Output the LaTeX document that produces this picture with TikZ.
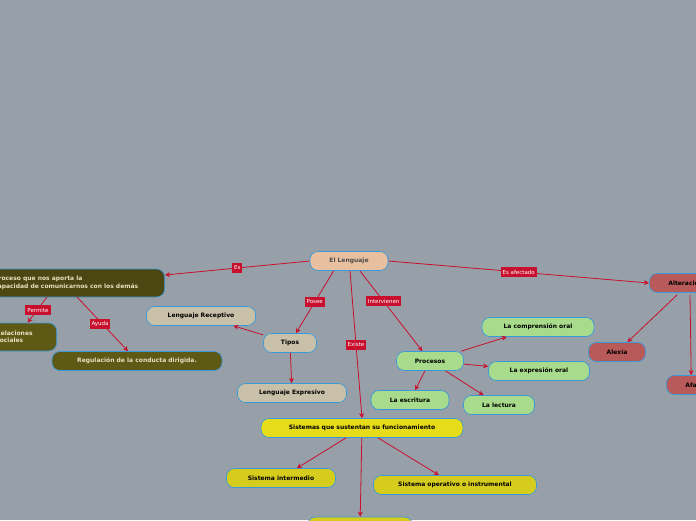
\documentclass[tikz,border=0pt]{standalone}
\usepackage{fontspec}
\setmainfont{DejaVu Sans}
\usetikzlibrary{arrows.meta}
\definecolor{bg}{HTML}{97A0A8}
\definecolor{edge}{HTML}{C8102E}
\definecolor{bord}{HTML}{3A9AD9}
\definecolor{peach}{HTML}{E8C0A0}
\definecolor{oliveA}{HTML}{4A4712}
\definecolor{oliveB}{HTML}{5E5A16}
\definecolor{beige}{HTML}{C8C0A8}
\definecolor{yel}{HTML}{E6DC1A}
\definecolor{yelB}{HTML}{D6CC1E}
\definecolor{grn}{HTML}{A8DC8C}
\definecolor{rosy}{HTML}{B85A5A}
\definecolor{lighttxt}{HTML}{E8E0C0}
\tikzset{
 box/.style={draw=bord, line width=0.7pt, rounded corners=8pt, minimum height=19pt, inner sep=2pt, font=\fontsize{6}{7}\selectfont\bfseries},
 txt/.style={inner sep=0pt, font=\fontsize{6}{7.5}\selectfont\bfseries, text=lighttxt, align=left, anchor=west},
 lbl/.style={fill=edge, text=white, inner sep=2pt, minimum height=10pt, font=\fontsize{5.5}{6}\selectfont},
 con/.style={draw=edge, line width=0.8pt, -{Stealth[length=5pt,width=5pt]}}
}
\begin{document}
\begin{tikzpicture}[x=1pt,y=-1pt]
\fill[bg] (0,0) rectangle (696,520);
\useasboundingbox (0,0) rectangle (696,520);
\node[box, fill=peach, minimum width=78pt, text=black!70] (L) at (349,261) {El Lenguaje};
\node[box, fill=oliveA, anchor=east, minimum height=28pt, minimum width=250pt] (P) at (165,283) {};
\node[txt] (Pt) at (-6,283) {Proceso que nos aporta la\\capacidad de comunicarnos con los demás};
\node[box, fill=oliveB, anchor=east, minimum height=28pt, minimum width=70pt] (R) at (57,337) {};
\node[txt] (Rt) at (-4,337) {Relaciones\\sociales};
\node[box, fill=oliveB, text=lighttxt, minimum width=170pt] (Reg) at (137,361) {Regulación de la conducta dirigida.};
\node[box, fill=beige, minimum width=109pt] (LR) at (201,316) {Lenguaje Receptivo};
\node[box, fill=beige, minimum width=53pt] (T) at (290,343) {Tipos};
\node[box, fill=beige, minimum width=109pt] (LE) at (292,393) {Lenguaje Expresivo};
\node[box, fill=yel, minimum width=202pt] (S) at (362,428) {Sistemas que sustentan su funcionamiento};
\node[box, fill=yelB, minimum width=109pt] (SI) at (281,478) {Sistema intermedio};
\node[box, fill=yelB, minimum width=163pt] (SO) at (455,485) {Sistema operativo o instrumental};
\node[box, fill=yelB, minimum width=105pt, minimum height=20pt] (SB) at (360,527) {};
\node[box, fill=grn, minimum width=67pt] (Pr) at (430,361) {Procesos};
\node[box, fill=grn, minimum width=112pt] (C) at (538,327) {La comprensión oral};
\node[box, fill=grn, minimum width=101pt] (E) at (539,371) {La expresión oral};
\node[box, fill=grn, minimum width=78pt] (Es) at (410,400) {La escritura};
\node[box, fill=grn, minimum width=71pt] (Le) at (499,405) {La lectura};
\node[box, fill=rosy, anchor=west, minimum width=80pt, text width=70pt] (A) at (649,283) {\hspace{14pt}Alteraciones};
\node[box, fill=rosy, minimum width=57pt] (Al) at (617,352) {Alexia};
\node[box, fill=rosy, anchor=west, minimum width=50pt, text width=40pt] (Af) at (666,385) {\hspace{14pt}Afasia};

\draw[con] (L.west) -- (P.east |- 0,275) node[lbl, pos=0.5] {Es};
\draw[con] (L.south west) ++(24,0) -- (T) node[lbl, pos=0.5] {Posee};
\draw[con] (350,271) -- (S.north) node[lbl, pos=0.5] {Existe};
\draw[con] (360,271) -- (Pr) node[lbl, pos=0.38] {Intervienen};
\draw[con] (L.east) -- (A.west) node[lbl, pos=0.5] {Es afectado};
\draw[con] (47,297) -- ([xshift=6pt]R.north);
\node[lbl] at (38,310) {Permite};
\draw[con] (77,297) -- ([xshift=-9pt]Reg.north);
\node[lbl] at (100,324) {Ayuda};
\draw[con] (T) -- (LR);
\draw[con] (T) -- (LE);
\draw[con] (Pr) -- (C);
\draw[con] (Pr) -- (E);
\draw[con] (Pr) -- (Es);
\draw[con] (Pr) -- (Le);
\draw[con] (S) -- (SI);
\draw[con] (S) -- (SO);
\draw[con] (S) -- (SB);
\draw[con] (677,295) -- (Al);
\draw[con] (690,295) -- (Af);
\end{tikzpicture}
\end{document}
